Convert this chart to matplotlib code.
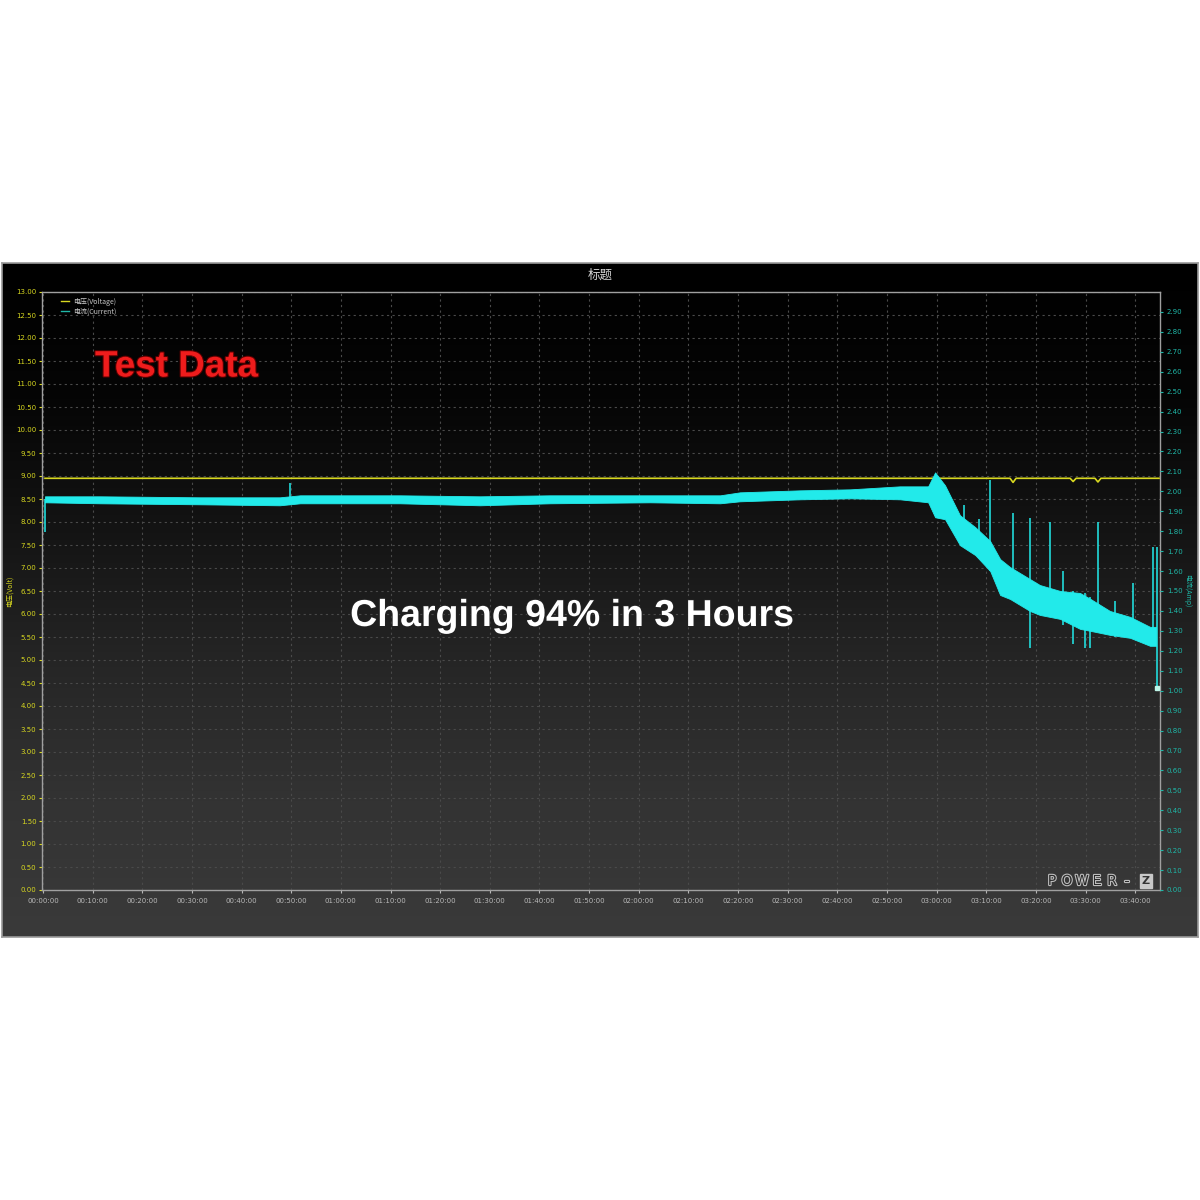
import numpy as np
import matplotlib.pyplot as plt
import matplotlib.patheffects as pe
from matplotlib.colors import LinearSegmentedColormap

# time axis in minutes
tick_minutes = list(range(0, 230, 10))
tick_labels = [f"{m // 60:02d}:{m % 60:02d}:00" for m in tick_minutes]

# current band (envelopes), amps
band_t = [0.4, 11.5, 31.6, 47.7, 51.8, 71.9, 88.0, 102.1, 122.3, 136.4, 140.4,
          152.5, 162.6, 172.6, 178.3, 179.7, 181.7, 184.7, 187.8, 190.8, 192.8,
          194.8, 198.8, 200.8, 204.9, 208.9, 211.0, 214.9, 219.0, 223.0, 224.2]
band_hi = [1.975, 1.975, 1.97, 1.97, 1.98, 1.98, 1.975, 1.98, 1.98, 1.98, 1.995,
           2.005, 2.01, 2.025, 2.025, 2.095, 2.03, 1.88, 1.82, 1.75, 1.66,
           1.62, 1.56, 1.53, 1.50, 1.49, 1.46, 1.40, 1.37, 1.32, 1.32]
band_lo = [1.945, 1.94, 1.935, 1.93, 1.94, 1.94, 1.93, 1.94, 1.945, 1.94, 1.95,
           1.96, 1.965, 1.96, 1.945, 1.87, 1.86, 1.73, 1.68, 1.60, 1.48,
           1.46, 1.40, 1.38, 1.36, 1.31, 1.30, 1.28, 1.265, 1.225, 1.225]

# isolated current spikes: time, low, high
spike_t = [0.4, 49.8, 185.5, 188.5, 190.8, 195.4, 198.8, 202.9, 205.5, 207.5, 209.9,
           210.9, 212.5, 216.0, 219.6, 223.6, 224.3]
spike_lo = [1.795, 1.93, 1.74, 1.68, 1.60, 1.46, 1.215, 1.40, 1.33, 1.235, 1.215,
            1.215, 1.30, 1.27, 1.265, 1.225, 1.015]
spike_hi = [1.96, 2.04, 1.93, 1.86, 2.055, 1.89, 1.865, 1.845, 1.60, 1.50, 1.49,
            1.47, 1.845, 1.45, 1.54, 1.72, 1.72]

# voltage trace, volts
volt_t = [0.4, 194.8, 195.4, 196.0, 206.9, 207.5, 208.1, 211.9, 212.5, 213.1, 224.8]
volt_v = [8.95, 8.95, 8.86, 8.95, 8.95, 8.88, 8.95, 8.95, 8.87, 8.95, 8.95]

cjk = ["Noto Sans CJK SC", "DejaVu Sans"]
yellow = "#d8d820"
teal = "#1fb8a8"
cyan = "#22eaea"

fig = plt.figure(figsize=(12, 12), dpi=100)
fig.patch.set_facecolor("white")

# dark panel with vertical gradient
bg = fig.add_axes([2 / 1200, 263 / 1200, 1196 / 1200, 674 / 1200])
cmap = LinearSegmentedColormap.from_list(
    "bg", ["#000000", "#050505", "#141414", "#262626", "#333333", "#3a3a3a"])
bg.imshow(np.linspace(0, 1, 256).reshape(-1, 1), cmap=cmap, aspect="auto",
          extent=[0, 1, 0, 1])
bg.set_xticks([])
bg.set_yticks([])
for s in bg.spines.values():
    s.set_color("#9a9a9a")
    s.set_linewidth(1.2)
bg.text(0.5, 1 - 12 / 674, "标题", ha="center", va="center", fontsize=9,
        color="#d8d8d8", family=cjk, transform=bg.transAxes)

# main plot
ax = fig.add_axes([42 / 1200, 310 / 1200, 1118 / 1200, 598 / 1200])
ax.set_facecolor("none")
ax.set_xlim(-0.2, 225)
ax.set_ylim(0, 13)
ax.set_yticks(np.arange(0, 13.01, 0.5))
ax.set_yticklabels([f"{v:.2f}" for v in np.arange(0, 13.01, 0.5)])
ax.set_xticks(tick_minutes)
ax.set_xticklabels(tick_labels)
ax.tick_params(axis="y", colors=yellow, labelsize=5, length=2, pad=2)
ax.tick_params(axis="x", colors="#b8b8b8", labelsize=5, length=2, pad=4)
ax.grid(True, color="#4a4a4a", linestyle=(0, (2, 3)), linewidth=0.8)
for s in ax.spines.values():
    s.set_color("#a0a0a0")
    s.set_linewidth(1.0)
ax.set_ylabel("电压(Volt)", color=yellow, fontsize=5, family=cjk, labelpad=2)

ax.plot(volt_t, volt_v, color=yellow, linewidth=1.2, zorder=3)

ax2 = ax.twinx()
ax2.set_ylim(0, 3.0)
ax2.set_yticks(np.arange(0, 2.95, 0.1))
ax2.set_yticklabels([f"{v:.2f}" for v in np.arange(0, 2.95, 0.1)])
ax2.tick_params(axis="y", colors=teal, labelsize=5, length=2, pad=3)
for s in ax2.spines.values():
    s.set_visible(False)
ax2.set_ylabel("电流(Amp)", color=teal, fontsize=5, family=cjk, rotation=270,
               labelpad=6)

ax2.fill_between(band_t, band_lo, band_hi, color=cyan, linewidth=0.6,
                 edgecolor=cyan, zorder=4)
ax2.vlines(spike_t, spike_lo, spike_hi, color=cyan, linewidth=1.3, alpha=0.85, zorder=4)
ax2.plot(spike_t[-1], spike_lo[-1], "s", color="#bff5e8", markersize=3, zorder=5)

# legend
h1, = ax.plot([], [], color=yellow, linewidth=1)
h2, = ax.plot([], [], color=teal, linewidth=1)
leg = ax.legend([h1, h2], ["电压(Voltage)", "电流(Current)"], loc="upper left",
                bbox_to_anchor=(0.012, 1.0), frameon=False, handlelength=1.2,
                handletextpad=0.6, labelspacing=0.3, borderpad=0.3,
                prop={"family": cjk, "size": 5})
for t in leg.get_texts():
    t.set_color("#c8c8c8")

# overlay captions
fig.text(95 / 1200, 1 - 367 / 1200, "Test Data", ha="left", va="center",
         fontsize=26.5, fontweight="bold", color="#ee1c1c",
         family="Liberation Sans",
         path_effects=[pe.withStroke(linewidth=1.5, foreground="#5a0000")])
fig.text(572 / 1200, 1 - 616 / 1200, "Charging 94% in 3 Hours", ha="center",
         va="center", fontsize=27, fontweight="bold", color="white",
         family="Liberation Sans",
         path_effects=[pe.withStroke(linewidth=1.5, foreground="#222222")])

# POWER-Z watermark
for i, ch in enumerate("POWER-"):
    fig.text((1052 + i * 15) / 1200, 1 - 881 / 1200, ch, ha="center", va="center",
             fontsize=10, color="#2a2a2a", family="DejaVu Sans",
             path_effects=[pe.withStroke(linewidth=1.6, foreground="#bdbdbd")])
fig.text(1146 / 1200, 1 - 881 / 1200, "Z", ha="center", va="center", fontsize=8,
         color="#333333", fontweight="bold",
         bbox=dict(boxstyle="square,pad=0.15", facecolor="#c8c8c8",
                   edgecolor="#c8c8c8"))

fig.savefig("out.png", dpi=100)
